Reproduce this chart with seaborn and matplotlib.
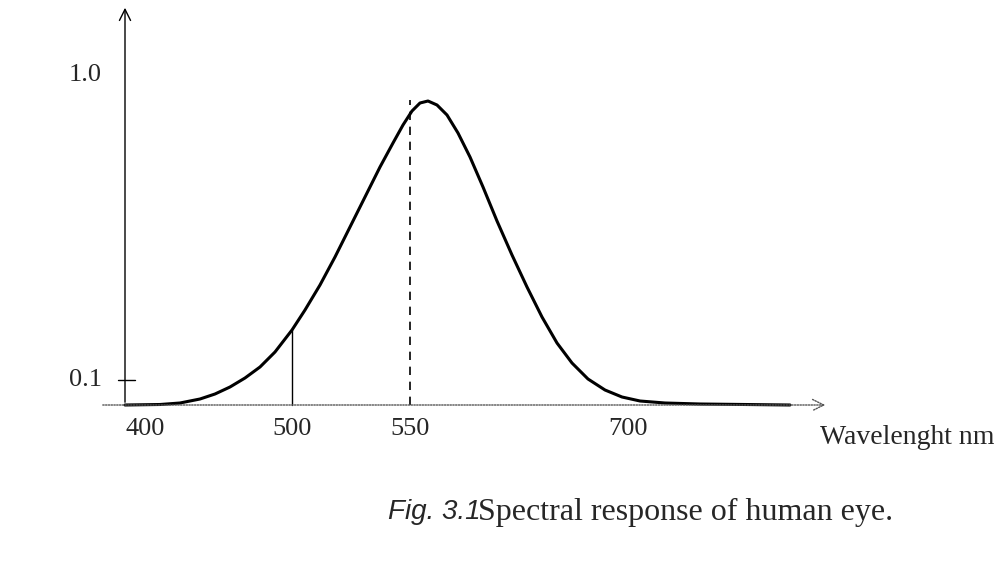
import matplotlib
matplotlib.use("Agg")
import matplotlib.pyplot as plt
import seaborn as sns
import pandas as pd

sns.set_style("white")
plt.rcParams['font.family'] = ['Liberation Serif', 'DejaVu Serif']

# curve samples (x in drawing units along the sketched wavelength axis, response height)
curve_x = [125,160,180,200,215,230,245,260,275,292,305,320,335,350,365,380,393,403,412,420,428,437,447,458,470,483,497,512,527,542,557,572,588,605,622,640,665,700,790]
curve_y = [0,0.5,2,6,11,18,27,38,53,75,95,120,148,178,208,238,262,280,294,302,304,300,290,272,248,218,184,150,118,88,62,42,26,15,8,4,2,1,0]
xtick_pos = [145, 292, 410, 628]
xtick_labels = ["400", "500", "550", "700"]
ytick_pos = [25, 330]
ytick_labels = ["0.1", "1.0"]

fig = plt.figure(figsize=(10.07, 5.61), dpi=100)
ax = fig.add_axes([0, 0, 1, 1])
ax.set_xlim(0, 1007)
ax.set_ylim(-156, 405)
ax.axis("off")

df = pd.DataFrame({"x": curve_x, "y": curve_y})
sns.lineplot(data=df, x="x", y="y", ax=ax, color="black", lw=2.2, legend=False)

# axes with arrows
ax.annotate("", xy=(125, 400), xytext=(125, 0),
            arrowprops=dict(arrowstyle="->", color="black", lw=1, mutation_scale=20))
ax.annotate("", xy=(828, 0), xytext=(100, 0),
            arrowprops=dict(arrowstyle="->", color="#555555", lw=1, ls=(0, (1, 1)), mutation_scale=20))

# guide lines
ax.plot([292, 292], [0, 75], color="black", lw=1)
ax.plot([410, 410], [0, 305], color="black", lw=1.2, ls=(0, (5, 4)))
ax.plot([118, 135], [25, 25], color="black", lw=1)

for p, l in zip(xtick_pos, xtick_labels):
    ax.text(p, -24, l, ha="center", va="center", fontsize=19)
for p, l in zip(ytick_pos, ytick_labels):
    ax.text(102, p, l, ha="right", va="center", fontsize=19)
ax.text(820, -33, "Wavelenght nm", ha="left", va="center", fontsize=20, clip_on=False)

ax.text(388, -107, "Fig. 3.1", ha="left", va="center", fontsize=20,
        family=["Liberation Sans", "DejaVu Sans"], style="italic")
ax.text(478, -107, "Spectral response of human eye.", ha="left", va="center", fontsize=23)

fig.savefig("out.png", dpi=100)
